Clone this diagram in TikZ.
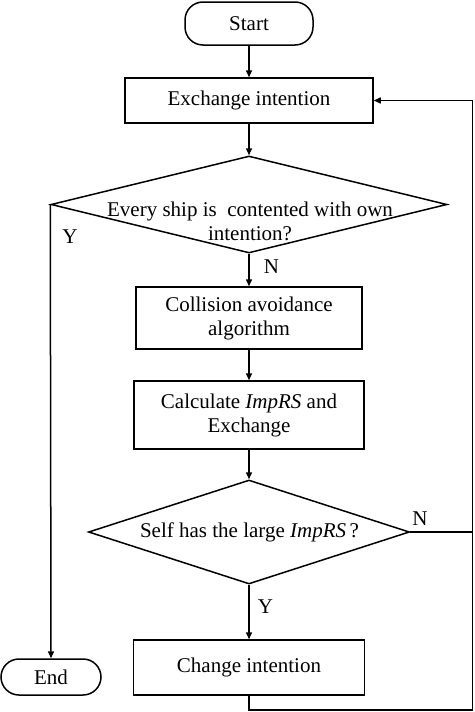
\documentclass[tikz,border=0pt]{standalone}
\usepackage{fontspec}
\setmainfont{Liberation Serif}
\usetikzlibrary{shapes.geometric,arrows.meta}
\begin{document}
\begin{tikzpicture}[x=1pt,y=-1pt,
  every node/.style={font=\fontsize{21}{24}\selectfont, inner sep=0pt},
  box/.style={draw, line width=1.5pt, rectangle},
  term/.style={draw, line width=1.5pt, rectangle, rounded corners=18pt},
  dia/.style={draw, line width=1.5pt, diamond, inner sep=0pt},
  lbl/.style={align=center},
  conn/.style={line width=1.5pt},
  arr/.style={line width=1.5pt, -{Triangle[length=7pt,width=6pt]}}]
\useasboundingbox (0,0) rectangle (474,712);
\node[term, minimum width=128pt, minimum height=43pt] (start) at (249,23.5) {Start};
\node[box, minimum width=248pt, minimum height=45pt] (exch) at (249,100.5) {\raisebox{-2pt}{Exchange intention}};
\node[dia, minimum width=396pt, minimum height=97pt] (d1) at (249,204.5) {};
\node[lbl] (d1t) at (250,221) {Every ship is\ \ contented with own\\intention?};
\node[box, minimum width=226pt, minimum height=62pt, align=center] (coll) at (249,318) {Collision avoidance\\algorithm};
\node[box, minimum width=230pt, minimum height=68pt, align=center] (calc) at (249,415) {Calculate \textit{ImpRS} and\\Exchange};
\node[dia, minimum width=321pt, minimum height=104pt] (d2) at (249,532) {};
\node (d2t) at (249.5,532) {Self has the large \textit{ImpRS}\,?};
\node[box, minimum width=231pt, minimum height=55pt] (chg) at (249,667.5) {Change intention};
\node[term, minimum width=100pt, minimum height=36pt] (end) at (51,677) {End};
\coordinate (rt) at (472.5,710);
\draw[arr] (start.south) -- (exch.north);
\draw[arr] (exch.south) -- (d1.north);
\draw[arr] (d1.south) -- node[pos=0.4, right=14pt] (nl1) {N} (coll.north);
\draw[arr] (coll.south) -- (calc.north);
\draw[arr] (calc.south) -- (d2.north);
\draw[arr] (d2.south) -- node[pos=0.4, right=8pt] (yl2) {Y} (chg.north);
\draw[arr] (d1.west) -- (end.north);
\node (yl1) at (70,237) {Y};
\draw[conn] (d2.east) -- (d2.east -| rt);
\node (nl2) at (420,519) {N};
\draw[arr] (chg.south) |- (rt) |- (exch.east);
\end{tikzpicture}
\end{document}
